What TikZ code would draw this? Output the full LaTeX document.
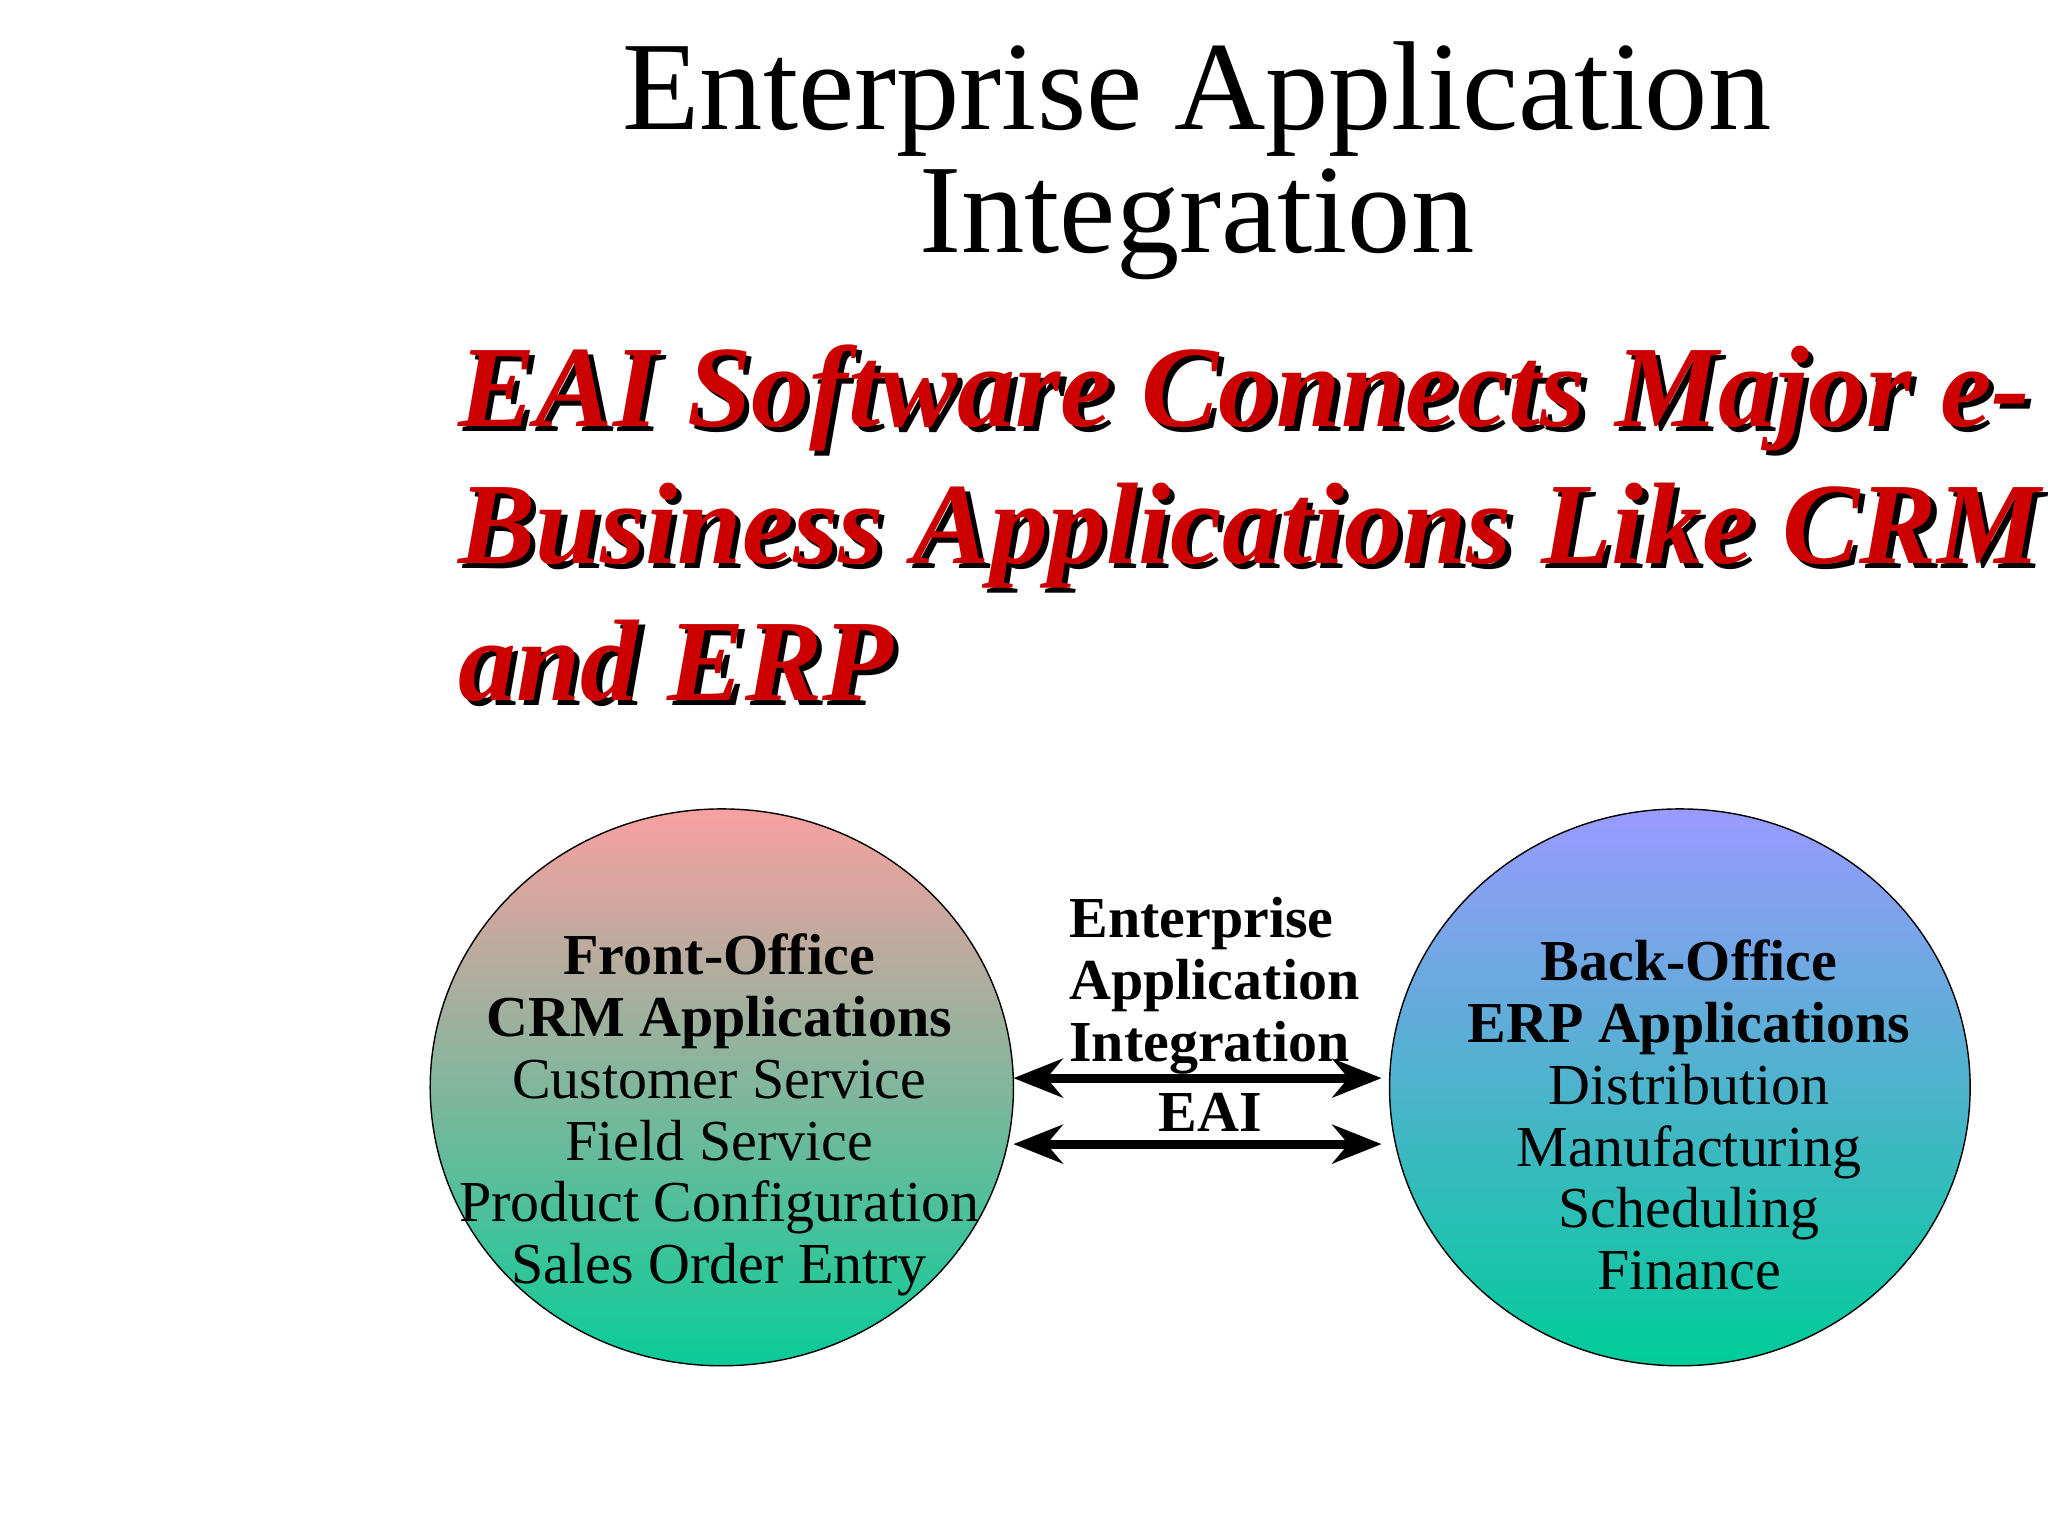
\documentclass[tikz,border=0pt]{standalone}
\usepackage{fontspec}
\setmainfont{Liberation Serif}
\usetikzlibrary{arrows.meta,shadings}
\definecolor{eaired}{HTML}{CC0000}
\definecolor{ltop}{HTML}{F8A0A0}
\definecolor{lbot}{HTML}{0ACC99}
\definecolor{rtop}{HTML}{9A9AFF}
\definecolor{rbot}{HTML}{00CC99}
\tikzset{
  circtext/.style={align=center,font=\fontsize{16.5}{17.6}\selectfont},
  eaiarrow/.style={{Stealth[length=14pt,width=11pt]}-{Stealth[length=14pt,width=11pt]},line width=2.6pt},
  slogan/.style={anchor=north west,align=left,font=\fontsize{33}{39}\selectfont\bfseries\itshape}
}
\begin{document}
\begin{tikzpicture}[x=0.013196cm,y=-0.013196cm]
\useasboundingbox (0,0) rectangle (1552,1164);
\fill[white] (0,0) rectangle (1552,1164);
\node[align=center,font=\fontsize{36}{35}\selectfont] (title) at (907,122) {Enterprise Application\\Integration};
\node[slogan,text=black] (shadow) at (342,256) {EAI Software Connects Major e-\\Business Applications Like CRM\\and ERP};
\node[slogan,text=eaired] (slogan) at (338,252) {EAI Software Connects Major e-\\Business Applications Like CRM\\and ERP};
\shade[top color=ltop,bottom color=lbot,draw=black,thin] (547,824) ellipse [x radius=221,y radius=211];
\shade[top color=rtop,bottom color=rbot,draw=black,thin] (1273,824) ellipse [x radius=220,y radius=211];
\coordinate (lc) at (547,824);
\coordinate (rc) at (1273,824);
\node[circtext] (front) at (545,845) {\textbf{Front-Office}\\\textbf{CRM Applications}\\Customer Service\\Field Service\\Product Configuration\\Sales Order Entry};
\node[circtext] (back) at (1280,845) {\textbf{Back-Office}\\\textbf{ERP Applications}\\Distribution\\Manufacturing\\Scheduling\\Finance};
\node[anchor=west,align=left,font=\fontsize{16.5}{17.6}\selectfont\bfseries] (mid) at (801,747) {Enterprise\\Application\\Integration};
\node[font=\fontsize{16.5}{17.6}\selectfont\bfseries] (eai) at (917,843) {EAI};
\coordinate (a1l) at (768,817); \coordinate (a1r) at (1047,817);
\coordinate (a2l) at (768,867); \coordinate (a2r) at (1047,867);
\draw[eaiarrow] (a1l) -- (a1r);
\draw[eaiarrow] (a2l) -- (a2r);
\end{tikzpicture}
\end{document}
